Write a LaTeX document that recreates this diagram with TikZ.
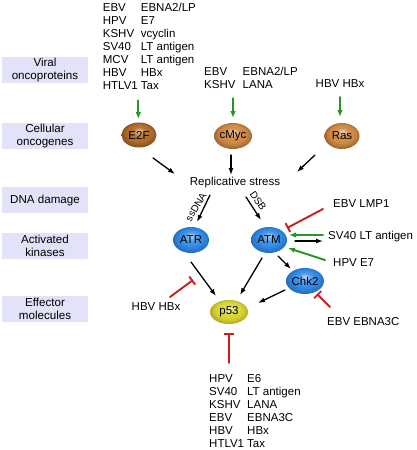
\documentclass[tikz,border=0pt]{standalone}
\usepackage{fontspec}
\setmainfont{Liberation Sans}
\usepackage{array}
\usetikzlibrary{arrows.meta,calc,shapes.geometric}
\definecolor{lblbg}{RGB}{226,226,248}
\definecolor{oncoE}{RGB}{175,105,40}
\definecolor{oncoM}{RGB}{205,135,65}
\definecolor{kinblue}{RGB}{45,135,228}
\definecolor{p53y}{RGB}{215,210,45}
\definecolor{grn}{RGB}{35,150,35}
\definecolor{inhred}{RGB}{200,30,30}
\pgfdeclareradialshading{balle}{\pgfqpoint{0bp}{9bp}}{color(0bp)=(oncoE!35!white); color(9bp)=(oncoE!90!white); color(18bp)=(oncoE); color(26bp)=(oncoE!75!black); color(32bp)=(oncoE!65!black)}
\pgfdeclareradialshading{ballm}{\pgfqpoint{0bp}{9bp}}{color(0bp)=(oncoM!35!white); color(9bp)=(oncoM!90!white); color(18bp)=(oncoM); color(26bp)=(oncoM!75!black); color(32bp)=(oncoM!65!black)}
\pgfdeclareradialshading{ballk}{\pgfqpoint{0bp}{9bp}}{color(0bp)=(kinblue!35!white); color(9bp)=(kinblue!85!white); color(18bp)=(kinblue); color(26bp)=(kinblue!80!black); color(32bp)=(kinblue!70!black)}
\pgfdeclareradialshading{ballp}{\pgfqpoint{0bp}{9bp}}{color(0bp)=(p53y!35!white); color(9bp)=(p53y!85!white); color(18bp)=(p53y); color(26bp)=(p53y!80!black); color(32bp)=(p53y!70!black)}
\tikzset{
  lbl/.style={rectangle, fill=lblbg, minimum width=86pt, minimum height=26pt, inner sep=0pt, align=center, font=\fontsize{11.6}{13}\selectfont},
  onco/.style={ellipse, shading=#1, minimum width=36pt, minimum height=26pt, inner sep=0pt, font=\fontsize{11.5}{13}\selectfont},
  kin/.style={ellipse, shading=ballk, minimum width=36pt, minimum height=26pt, inner sep=0pt, font=\fontsize{11.5}{13}\selectfont},
  eff/.style={ellipse, shading=ballp, minimum width=38pt, minimum height=24pt, inner sep=0pt, font=\fontsize{11.5}{13}\selectfont},
  vtxt/.style={inner sep=0pt, font=\fontsize{11.5}{12.95}\selectfont},
  small/.style={inner sep=0pt, font=\fontsize{10}{11}\selectfont},
  arr/.style={-{Latex[length=7pt,width=5pt]}, line width=1.3pt},
  grnarr/.style={-{Latex[length=7pt,width=5.5pt]}, line width=1.9pt, draw=grn},
  inh/.style={-{Bar[width=10pt]}, line width=1.9pt, draw=inhred},
  every picture/.style={line cap=round, line join=round}
}
\begin{document}
\begin{tikzpicture}[x=1pt, y=-1pt]
  \useasboundingbox (0,0) rectangle (417,450);

  \node[lbl] (lviral) at (45,70) {Viral\\oncoproteins};
  \node[lbl] (lcell) at (45,136) {Cellular\\oncogenes};
  \node[lbl] (ldna) at (45,200) {DNA damage};
  \node[lbl] (lkin) at (45,246) {Activated\\kinases};
  \node[lbl] (leff) at (45,309) {Effector\\molecules};

  \node[vtxt, anchor=north west] (vir1) at (102.7,2.4) {\begin{tabular}{@{}w{l}{38pt}@{}l@{}}
    EBV & EBNA2/LP\\ HPV & E7\\ KSHV & vcyclin\\ SV40 & LT antigen\\
    MCV & LT antigen\\ HBV & HBx\\ HTLV1 & Tax\end{tabular}};
  \node[vtxt, anchor=north west] (vir2) at (204,66) {\begin{tabular}{@{}w{l}{38.5pt}@{}l@{}}
    EBV & EBNA2/LP\\ KSHV & LANA\end{tabular}};
  \node[vtxt] (vir3) at (340,84) {HBV HBx};
  \node[vtxt, anchor=north west] (vir4) at (209,373) {\begin{tabular}{@{}w{l}{38pt}@{}l@{}}
    HPV & E6\\ SV40 & LT antigen\\ KSHV & LANA\\ EBV & EBNA3C\\
    HBV & HBx\\ HTLV1 & Tax\end{tabular}};

  \node[onco=balle, minimum width=35pt, minimum height=25pt] (e2f) at (139,135) {E2F};
  \node[onco=ballm] (cmyc) at (233,136) {cMyc};
  \node[onco=ballm, minimum width=35pt] (ras) at (342,136) {Ras};
  \node[vtxt] (rs) at (235,183) {Replicative stress};
  \node[kin] (atr) at (191,240) {ATR};
  \node[kin] (atm) at (269,240) {ATM};
  \node[kin] (chk2) at (305,281) {Chk2};
  \node[eff] (p53) at (229,312) {p53};

  \node[small, rotate=59] (ssdna) at (196,207) {ssDNA};
  \node[small, rotate=-55] (dsb) at (258,201) {DSB};

  \node[vtxt, anchor=west] (lmp1) at (333,204) {EBV LMP1};
  \node[vtxt, anchor=west] (sv40) at (328,237) {SV40 LT antigen};
  \node[vtxt, anchor=west] (e7) at (333,263) {HPV E7};
  \node[vtxt] (hbx) at (156,307) {HBV HBx};
  \node[vtxt, anchor=west] (ebna) at (327,322) {EBV EBNA3C};
  \coordinate (hbxT) at (193,280);

  \draw[grnarr] ($(vir1.south -| e2f)+(-0.7,7)$) -- ($(e2f)+(-0.7,-16)$);
  \draw[grnarr] ($(vir2.south -| cmyc)+(0,6)$) -- ($(cmyc)+(0,-18)$);
  \draw[grnarr] ($(vir3.south)+(0,9)$) -- ($(ras)+(-2,-19)$);

  \draw[arr] ($(e2f)+(14,23)$) -- ($(rs)+(-60,-9)$);
  \draw[arr] ($(cmyc)+(-2,19)$) -- ($(rs)+(-4,-8)$);
  \draw[arr] ($(ras)+(-27,19)$) -- ($(rs)+(62,-11)$);
  \draw[arr] ($(rs)+(-25,12)$) -- ($(atr)+(6,-18)$);
  \draw[arr] ($(rs)+(11,14)$) -- ($(atm)+(-8,-20)$);
  \draw[arr] ($(atr)+(0,22)$) -- ($(p53)+(-13,-16)$);
  \draw[arr] ($(atm)+(-7,18)$) -- ($(p53)+(11,-17)$);
  \draw[arr] ($(atm)+(9,16)$) -- ($(chk2)+(-14,-12)$);
  \draw[arr] ($(chk2)+(-20,9)$) -- ($(p53)+(29,-9)$);

  \draw[grnarr] ($(sv40.west)+(-5,-2)$) -- ($(atm)+(20,-5)$);
  \draw[arr] ($(atm)+(26,1)$) -- ($(sv40.west)+(-5,4)$);
  \draw[grnarr] ($(e7.west)+(-8,-3)$) -- ($(atm)+(19,8)$);

  \draw[inh] ($(lmp1.west)+(-10,5)$) -- ($(atm)+(18,-12)$);
  \draw[inh] ($(hbx)+(14,-10)$) -- (hbxT);
  \draw[inh] ($(ebna.west)+(3,-15)$) -- ($(chk2)+(12,13)$);
  \draw[inh] ($(vir4.north -| p53)+(0,-10)$) -- ($(p53)+(0,21)$);
\end{tikzpicture}
\end{document}
